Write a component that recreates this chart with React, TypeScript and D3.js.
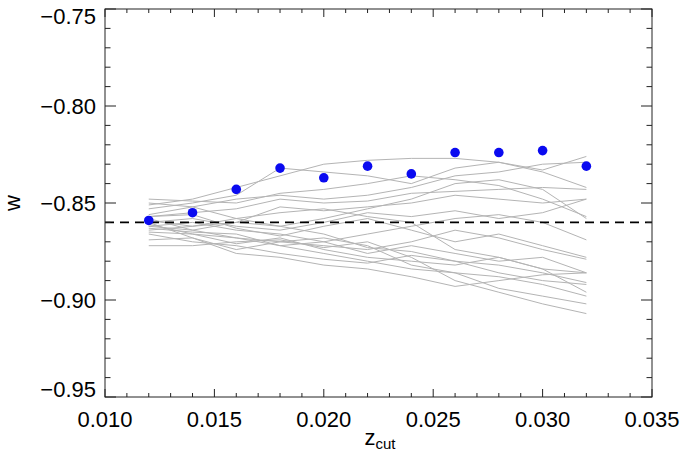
import React from 'react';
import * as d3 from 'd3';

// redshift cuts and best-fit w
const zCut = [0.012, 0.014, 0.016, 0.018, 0.020, 0.022, 0.024, 0.026, 0.028, 0.030, 0.032];
const wBest = [-0.859, -0.855, -0.843, -0.832, -0.837, -0.831, -0.835, -0.824, -0.824, -0.823, -0.831];

// individual realisations (gray)
const wRuns: number[][] = [
  [-0.851, -0.848, -0.842, -0.836, -0.830, -0.828, -0.827, -0.827, -0.829, -0.834, -0.842],
  [-0.853, -0.850, -0.846, -0.832, -0.834, -0.836, -0.840, -0.832, -0.829, -0.833, -0.826],
  [-0.848, -0.849, -0.850, -0.845, -0.843, -0.840, -0.836, -0.838, -0.841, -0.848, -0.857],
  [-0.856, -0.852, -0.848, -0.846, -0.848, -0.846, -0.842, -0.836, -0.834, -0.830, -0.829],
  [-0.857, -0.855, -0.853, -0.848, -0.850, -0.849, -0.845, -0.844, -0.843, -0.842, -0.843],
  [-0.859, -0.862, -0.860, -0.852, -0.854, -0.852, -0.850, -0.846, -0.848, -0.850, -0.848],
  [-0.850, -0.852, -0.858, -0.862, -0.858, -0.853, -0.848, -0.840, -0.838, -0.843, -0.858],
  [-0.860, -0.858, -0.862, -0.864, -0.860, -0.855, -0.857, -0.854, -0.858, -0.855, -0.848],
  [-0.862, -0.860, -0.864, -0.866, -0.870, -0.866, -0.862, -0.858, -0.856, -0.860, -0.869],
  [-0.858, -0.864, -0.868, -0.870, -0.872, -0.874, -0.870, -0.864, -0.868, -0.874, -0.879],
  [-0.865, -0.866, -0.868, -0.872, -0.870, -0.876, -0.872, -0.876, -0.880, -0.878, -0.886],
  [-0.861, -0.866, -0.871, -0.868, -0.874, -0.878, -0.880, -0.882, -0.878, -0.884, -0.886],
  [-0.863, -0.865, -0.866, -0.872, -0.876, -0.880, -0.884, -0.886, -0.888, -0.892, -0.898],
  [-0.866, -0.870, -0.872, -0.876, -0.879, -0.881, -0.877, -0.880, -0.886, -0.890, -0.892],
  [-0.860, -0.868, -0.876, -0.878, -0.882, -0.884, -0.888, -0.893, -0.890, -0.887, -0.886],
  [-0.869, -0.868, -0.874, -0.870, -0.868, -0.872, -0.882, -0.886, -0.894, -0.898, -0.902],
  [-0.872, -0.872, -0.870, -0.869, -0.873, -0.870, -0.878, -0.890, -0.896, -0.902, -0.907],
  [-0.862, -0.864, -0.860, -0.862, -0.866, -0.873, -0.875, -0.880, -0.882, -0.886, -0.891],
  [-0.857, -0.856, -0.863, -0.867, -0.862, -0.858, -0.864, -0.870, -0.866, -0.872, -0.878],
  [-0.864, -0.862, -0.858, -0.855, -0.853, -0.857, -0.860, -0.874, -0.878, -0.884, -0.896],
];

const wFiducial = -0.86;
const xTicks = [0.010, 0.015, 0.020, 0.025, 0.030, 0.035];
const yTicks = [-0.95, -0.90, -0.85, -0.80, -0.75];

const W = 683;
const H = 461;
const margin = { top: 9, right: 31, bottom: 64, left: 105 };
const FONT = '"Liberation Sans", Arial, Helvetica, sans-serif';

const App: React.FC = () => {
  const x = d3.scaleLinear().domain([0.010, 0.035]).range([margin.left, W - margin.right]);
  const y = d3.scaleLinear().domain([-0.95, -0.75]).range([H - margin.bottom, margin.top]);
  const [x0, x1] = x.range();
  const [y0, y1] = y.range(); // y0 bottom, y1 top

  const line = d3.line<number>()
    .x((_, i) => x(zCut[i]))
    .y(d => y(d));

  const xMinor = d3.range(0, 26).map(i => 0.010 + i * 0.001);
  const yMinor = d3.range(0, 21).map(i => -0.95 + i * 0.01);
  const xMajLen = 8, xMinLen = 4, yMajLen = 11, yMinLen = 5.5;
  const fmtX = d3.format('.3f');
  const fmtY = (v: number) => d3.format('.2f')(v).replace('-', '\u2212');

  // keep the end labels inside the frame height
  const yLabelPos = (v: number) => Math.min(y0 - 8, Math.max(y1 + 7, y(v))) + 8;

  return (
    <svg width={W} height={H} style={{ position: 'absolute', left: 0, top: 0, background: '#fff' }}>
      {/* realisations */}
      <g fill="none" stroke="#b4b4b4" strokeWidth={1}>
        {wRuns.map((r, i) => <path key={i} d={line(r) ?? ''} />)}
      </g>

      {/* fiducial */}
      <line x1={x0} x2={x1} y1={y(wFiducial)} y2={y(wFiducial)}
        stroke="#000" strokeWidth={1.8} strokeDasharray="9,6" />

      {/* best fit */}
      <g fill="#0a0af0">
        {wBest.map((v, i) => <circle key={i} cx={x(zCut[i])} cy={y(v)} r={4.8} />)}
      </g>

      {/* frame and ticks */}
      <g stroke="#222" strokeWidth={1}>
        <rect x={x0} y={y1} width={x1 - x0} height={y0 - y1} fill="none" />
        {xMinor.map((v, i) => {
          const len = i % 5 === 0 ? xMajLen : xMinLen;
          return (
            <g key={'x' + i}>
              <line x1={x(v)} x2={x(v)} y1={y0} y2={y0 - len} />
              <line x1={x(v)} x2={x(v)} y1={y1} y2={y1 + len} />
            </g>
          );
        })}
        {yMinor.map((v, i) => {
          const len = i % 5 === 0 ? yMajLen : yMinLen;
          return (
            <g key={'y' + i}>
              <line x1={x0} x2={x0 + len} y1={y(v)} y2={y(v)} />
              <line x1={x1} x2={x1 - len} y1={y(v)} y2={y(v)} />
            </g>
          );
        })}
      </g>

      {/* tick labels */}
      <g fontFamily={FONT} fontSize={22} fill="#000">
        {xTicks.map(v => (
          <text key={v} x={x(v)} y={y0 + 30} textAnchor="middle">{fmtX(v)}</text>
        ))}
        {yTicks.map(v => (
          <text key={v} x={x0 - 9} y={yLabelPos(v)} textAnchor="end">{fmtY(v)}</text>
        ))}
      </g>

      {/* axis titles */}
      <text x={(x0 + x1) / 2 - 14} y={445} fontFamily={FONT} fontSize={22} fill="#000">
        z<tspan fontSize={15} dy={4}>cut</tspan>
      </text>
      <text transform={`translate(20,${(y0 + y1) / 2}) rotate(-90)`} textAnchor="middle"
        fontFamily={FONT} fontSize={22} fill="#000">w</text>
    </svg>
  );
};

export default App;
